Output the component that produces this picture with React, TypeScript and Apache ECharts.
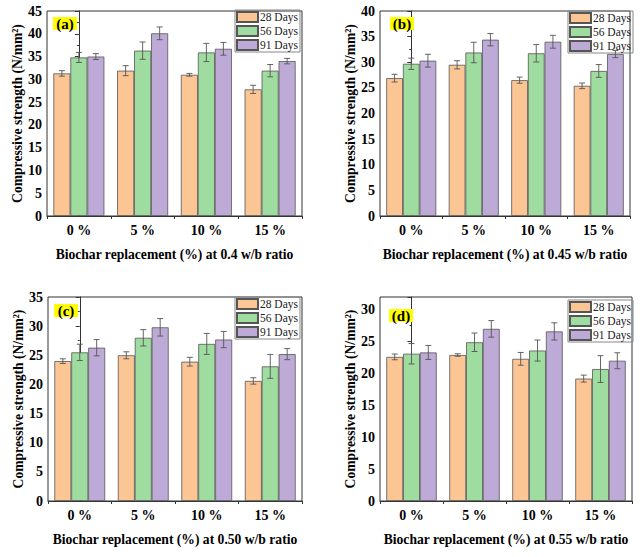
import React, { useEffect, useRef } from "react";
import * as echarts from "echarts";

const categories = ["0 %", "5 %", "10 %", "15 %"];
const seriesNames = ["28 Days", "56 Days", "91 Days"];
const colors = ["#FCC594", "#9FDC9F", "#BEAAD6"];

// (a) 0.4 w/b
const a28 = [31.3, 31.9, 31.0, 27.8];
const a56 = [34.8, 36.3, 35.9, 31.9];
const a91 = [35.0, 40.1, 36.7, 34.0];
const a28Err = [0.6, 1.1, 0.3, 0.9];
const a56Err = [1.1, 1.9, 2.0, 1.35];
const a91Err = [0.65, 1.4, 1.4, 0.6];

// (b) 0.45 w/b
const b28 = [26.9, 29.5, 26.5, 25.4];
const b56 = [29.7, 31.9, 31.75, 28.3];
const b91 = [30.3, 34.4, 34.0, 31.6];
const b28Err = [0.75, 0.8, 0.6, 0.55];
const b56Err = [1.1, 2.0, 1.7, 1.25];
const b91Err = [1.25, 1.2, 1.25, 0.7];

// (c) 0.50 w/b
const c28 = [24.0, 25.0, 23.9, 20.6];
const c56 = [25.5, 28.0, 26.95, 23.1];
const c91 = [26.3, 29.8, 27.7, 25.2];
const c28Err = [0.4, 0.6, 0.75, 0.55];
const c56Err = [1.4, 1.4, 1.8, 2.05];
const c91Err = [1.4, 1.5, 1.4, 0.95];

// (d) 0.55 w/b
const d28 = [22.6, 22.9, 22.3, 19.2];
const d56 = [23.1, 24.9, 23.6, 20.7];
const d91 = [23.3, 27.0, 26.6, 22.0];
const d28Err = [0.45, 0.2, 1.0, 0.55];
const d56Err = [1.6, 1.45, 1.65, 2.1];
const d91Err = [1.1, 1.3, 1.35, 1.25];

const panelLabels = ["(a)", "(b)", "(c)", "(d)"];
const xTitles = [
  "Biochar replacement (%) at 0.4 w/b ratio",
  "Biochar replacement (%) at 0.45 w/b ratio",
  "Biochar replacement (%) at 0.50 w/b ratio",
  "Biochar replacement (%) at 0.55 w/b ratio",
];
const yTitle = "Compressive strength (N/mm²)";
const yMax = [45, 40, 35, 32];

const panels = [
  { vals: [a28, a56, a91], errs: [a28Err, a56Err, a91Err] },
  { vals: [b28, b56, b91], errs: [b28Err, b56Err, b91Err] },
  { vals: [c28, c56, c91], errs: [c28Err, c56Err, c91Err] },
  { vals: [d28, d56, d91], errs: [d28Err, d56Err, d91Err] },
];

const FONT = "'Liberation Serif', 'Times New Roman', serif";

const gridPos = [
  { left: 47, top: 11, width: 255, height: 205 },
  { left: 380, top: 11, width: 250, height: 205 },
  { left: 48, top: 297, width: 254, height: 204 },
  { left: 380, top: 297, width: 252, height: 204 },
];
const legendPos = [
  { right: 342, top: 10 },
  { right: 9, top: 11 },
  { right: 342, top: 297 },
  { right: 9, top: 300 },
];
const labelPos = [
  { x: 53, y: 17 },
  { x: 390, y: 17 },
  { x: 54, y: 304 },
  { x: 389, y: 309 },
];

export default function App() {
  const ref = useRef<HTMLDivElement>(null);
  useEffect(() => {
    if (!ref.current) return;
    const chart = echarts.init(ref.current, null, { renderer: "svg" });

    const grid: any[] = [];
    const xAxis: any[] = [];
    const yAxis: any[] = [];
    const series: any[] = [];
    const legend: any[] = [];
    const graphic: any[] = [];

    panels.forEach((p, g) => {
      grid.push({
        ...gridPos[g],
        show: true,
        borderColor: "#333",
        borderWidth: 1,
        backgroundColor: "transparent",
        containLabel: false,
      });
      xAxis.push({
        type: "category",
        gridIndex: g,
        data: categories,
        axisLine: { lineStyle: { color: "#333", width: 1 } },
        axisTick: { show: true, alignWithLabel: false, length: 3, lineStyle: { color: "#333" } },
        axisLabel: {
          color: "#000",
          fontFamily: FONT,
          fontWeight: "bold",
          fontSize: 14,
          margin: 7,
        },
        name: xTitles[g],
        nameLocation: "middle",
        nameGap: 31,
        nameTextStyle: { color: "#000", fontFamily: FONT, fontWeight: "bold", fontSize: 13.6 },
      });
      // helper value axis for center ticks
      xAxis.push({
        type: "value",
        gridIndex: g,
        min: -0.5,
        max: 3.5,
        interval: 1,
        position: "bottom",
        axisLine: { show: false },
        axisTick: { show: true, length: 3, lineStyle: { color: "#333" } },
        axisLabel: { show: false },
        splitLine: { show: false },
      });
      yAxis.push({
        type: "value",
        gridIndex: g,
        min: 0,
        max: yMax[g],
        interval: 5,
        axisLine: { show: true, lineStyle: { color: "#333", width: 1 } },
        axisTick: { show: true, length: 4, lineStyle: { color: "#333" } },
        minorTick: { show: true, splitNumber: 2, length: 2, lineStyle: { color: "#333" } },
        splitLine: { show: false },
        axisLabel: {
          color: "#000",
          fontFamily: FONT,
          fontWeight: "bold",
          fontSize: 14,
          margin: 5,
          showMaxLabel: yMax[g] % 5 === 0,
        },
        name: yTitle,
        nameLocation: "middle",
        nameGap: 23,
        nameRotate: 90,
        nameTextStyle: {
          color: "#000",
          fontFamily: FONT,
          fontWeight: "bold",
          fontSize: 13.6,
        },
      });
      p.vals.forEach((vals, k) => {
        series.push({
          type: "bar",
          name: seriesNames[k],
          xAxisIndex: g * 2,
          yAxisIndex: g,
          data: vals,
          barGap: "0%",
          barCategoryGap: "20%",
          itemStyle: { color: colors[k], borderColor: "#555", borderWidth: 0.8 },
          emphasis: { disabled: true },
        });
      });
      const errData: number[][] = [];
      p.vals.forEach((vals, k) => {
        vals.forEach((v, ci) => errData.push([ci, v, p.errs[k][ci], k]));
      });
      series.push({
        type: "custom",
        xAxisIndex: g * 2,
        yAxisIndex: g,
        z: 5,
        data: errData,
        renderItem: (params: any, api: any) => {
          const ci = api.value(0);
          const v = api.value(1);
          const e = api.value(2);
          const k = api.value(3);
          const band = api.size([1, 0])[0];
          const bw = (band * 0.8) / 3;
          const c = api.coord([ci, v]);
          const x = c[0] + (k - 1) * bw;
          const yt = api.coord([ci, v + e])[1];
          const yb = api.coord([ci, v - e])[1];
          const cap = 3;
          const st = { stroke: "#555", lineWidth: 0.9 };
          return {
            type: "group",
            children: [
              { type: "line", shape: { x1: x, y1: yt, x2: x, y2: yb }, style: st },
              { type: "line", shape: { x1: x - cap, y1: yt, x2: x + cap, y2: yt }, style: st },
              { type: "line", shape: { x1: x - cap, y1: yb, x2: x + cap, y2: yb }, style: st },
            ],
          };
        },
      });
      legend.push({
        ...legendPos[g],
        orient: "vertical",
        data: seriesNames,
        itemWidth: 21,
        itemHeight: 10,
        itemGap: 2,
        icon: "rect",
        borderColor: "#888",
        borderWidth: 1,
        padding: [1, 2, 1, 1],
        textStyle: { fontFamily: FONT, fontSize: 11.5, color: "#222", padding: [0, 0, 0, -3] },
        selectedMode: false,
      });
      graphic.push({
        type: "rect",
        shape: { x: labelPos[g].x, y: labelPos[g].y, width: 24, height: 13 },
        style: { fill: "#FFFF00" },
        z: 10,
      });
      graphic.push({
        type: "text",
        x: labelPos[g].x + 12,
        y: labelPos[g].y + 7,
        style: {
          text: panelLabels[g],
          font: `bold 15px ${FONT}`,
          fill: "#000",
          align: "center",
          verticalAlign: "middle",
        },
        z: 11,
      });
    });

    chart.setOption({
      animation: false,
      backgroundColor: "#ffffff",
      grid,
      xAxis,
      yAxis,
      series,
      legend,
      graphic,
    });
    return () => chart.dispose();
  }, []);
  return (
    <div
      ref={ref}
      style={{ position: "absolute", left: 0, top: 0, width: 642, height: 557 }}
    />
  );
}
